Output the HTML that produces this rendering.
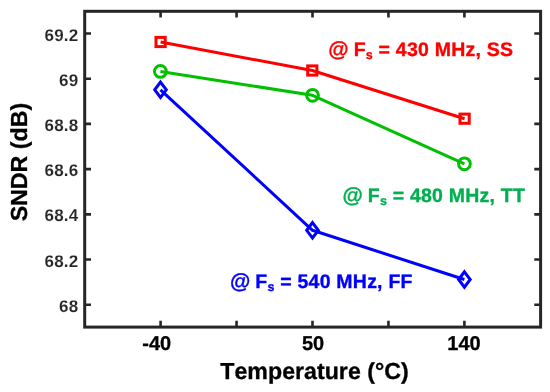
<!DOCTYPE html>
<html><head><meta charset="utf-8"><title>SNDR vs Temperature</title>
<style>
html,body{margin:0;padding:0;background:#fff;}
svg{display:block;}
text{font-family:"Liberation Sans",sans-serif;font-weight:bold;text-rendering:geometricPrecision;font-kerning:none;}
.tk{font-size:17px;fill:#262626;letter-spacing:0.2px;stroke:#fff;stroke-width:0.12px;paint-order:fill stroke;}
.xt{font-size:20px;fill:#000;stroke:#000;stroke-width:0.3px;letter-spacing:0.01px;}
.an{font-size:19.5px;letter-spacing:0.22px;stroke-width:0.35px;}
.sub{font-size:12.5px;}.at{font-size:20.8px;}
.lb{font-size:23.2px;fill:#000;stroke:#000;stroke-width:0.3px;}
</style></head>
<body>
<svg width="550" height="392" viewBox="0 0 550 392">
<rect width="550" height="392" fill="#ffffff"/>
<rect x="84.7" y="11.3" width="455.90" height="315.80" fill="none" stroke="#262626" stroke-width="3"/>
<path d="M160.60 327.1 v-6.3 M160.60 11.3 v6.3" stroke="#262626" stroke-width="2.6" fill="none"/>
<path d="M236.55 327.1 v-6.3 M236.55 11.3 v6.3" stroke="#262626" stroke-width="2.6" fill="none"/>
<path d="M312.50 327.1 v-6.3 M312.50 11.3 v6.3" stroke="#262626" stroke-width="2.6" fill="none"/>
<path d="M388.45 327.1 v-6.3 M388.45 11.3 v6.3" stroke="#262626" stroke-width="2.6" fill="none"/>
<path d="M464.40 327.1 v-6.3 M464.40 11.3 v6.3" stroke="#262626" stroke-width="2.6" fill="none"/>
<path d="M84.7 304.75 h6.3 M540.6 304.75 h-6.3" stroke="#262626" stroke-width="2.6" fill="none"/>
<text x="78.4" y="311.85" text-anchor="end" class="tk">68</text>
<path d="M84.7 259.54 h6.3 M540.6 259.54 h-6.3" stroke="#262626" stroke-width="2.6" fill="none"/>
<text x="78.4" y="266.64" text-anchor="end" class="tk">68.2</text>
<path d="M84.7 214.33 h6.3 M540.6 214.33 h-6.3" stroke="#262626" stroke-width="2.6" fill="none"/>
<text x="78.4" y="221.43" text-anchor="end" class="tk">68.4</text>
<path d="M84.7 169.12 h6.3 M540.6 169.12 h-6.3" stroke="#262626" stroke-width="2.6" fill="none"/>
<text x="78.4" y="176.22" text-anchor="end" class="tk">68.6</text>
<path d="M84.7 123.92 h6.3 M540.6 123.92 h-6.3" stroke="#262626" stroke-width="2.6" fill="none"/>
<text x="78.4" y="131.02" text-anchor="end" class="tk">68.8</text>
<path d="M84.7 78.71 h6.3 M540.6 78.71 h-6.3" stroke="#262626" stroke-width="2.6" fill="none"/>
<text x="78.4" y="85.81" text-anchor="end" class="tk">69</text>
<path d="M84.7 33.50 h6.3 M540.6 33.50 h-6.3" stroke="#262626" stroke-width="2.6" fill="none"/>
<text x="78.4" y="40.60" text-anchor="end" class="tk">69.2</text>
<text x="156.7" y="350.2" text-anchor="middle" class="xt">-40</text>
<text x="313.1" y="350.2" text-anchor="middle" class="xt">50</text>
<text x="464.0" y="350.2" text-anchor="middle" class="xt">140</text>
<path d="M160.6 42.0 L312.3 70.5 L464.6 118.7" stroke="#ff0000" stroke-width="3.0" fill="none" stroke-linejoin="round"/>
<rect x="156.0" y="37.4" width="9.2" height="9.2" fill="none" stroke="#ff0000" stroke-width="3.0"/>
<rect x="307.7" y="65.9" width="9.2" height="9.2" fill="none" stroke="#ff0000" stroke-width="3.0"/>
<rect x="460.0" y="114.1" width="9.2" height="9.2" fill="none" stroke="#ff0000" stroke-width="3.0"/>
<path d="M160.4 71.4 L312.5 95.3 L464.4 163.8" stroke="#00c000" stroke-width="3.0" fill="none" stroke-linejoin="round"/>
<circle cx="160.4" cy="71.4" r="5.9" fill="none" stroke="#00c000" stroke-width="3.0"/>
<circle cx="312.5" cy="95.3" r="5.9" fill="none" stroke="#00c000" stroke-width="3.0"/>
<circle cx="464.4" cy="163.8" r="5.9" fill="none" stroke="#00c000" stroke-width="3.0"/>
<path d="M160.5 89.8 L312.5 230.3 L464.4 279.5" stroke="#0000ff" stroke-width="3.0" fill="none" stroke-linejoin="round"/>
<path d="M160.5 82.1 L166.3 89.8 L160.5 97.5 L154.7 89.8 Z" fill="none" stroke="#0000ff" stroke-width="3.0" stroke-linejoin="miter"/>
<path d="M312.5 222.6 L318.3 230.3 L312.5 238.0 L306.7 230.3 Z" fill="none" stroke="#0000ff" stroke-width="3.0" stroke-linejoin="miter"/>
<path d="M464.4 271.8 L470.2 279.5 L464.4 287.2 L458.6 279.5 Z" fill="none" stroke="#0000ff" stroke-width="3.0" stroke-linejoin="miter"/>
<text x="328.3" y="56.2" class="an" fill="#ff0000" stroke="#ff0000"><tspan class="at">@</tspan><tspan dx="-0.8"> F</tspan><tspan class="sub" dy="2.9">s</tspan><tspan dy="-2.9"> = 430 MHz, SS</tspan></text>
<text x="342.4" y="201.8" class="an" fill="#00b050" stroke="#00b050"><tspan class="at">@</tspan><tspan dx="-0.8"> F</tspan><tspan class="sub" dy="2.9">s</tspan><tspan dy="-2.9"> = 480 MHz, TT</tspan></text>
<text x="230.0" y="288.4" class="an" fill="#0000ff" stroke="#0000ff"><tspan class="at">@</tspan><tspan dx="-0.8"> F</tspan><tspan class="sub" dy="2.9">s</tspan><tspan dy="-2.9"> = 540 MHz, FF</tspan></text>
<text x="314.5" y="379.2" text-anchor="middle" class="lb">Temperature (°C)</text>
<text transform="translate(27.0,162.1) rotate(-90)" text-anchor="middle" class="lb">SNDR (dB)</text>
</svg>
</body></html>
